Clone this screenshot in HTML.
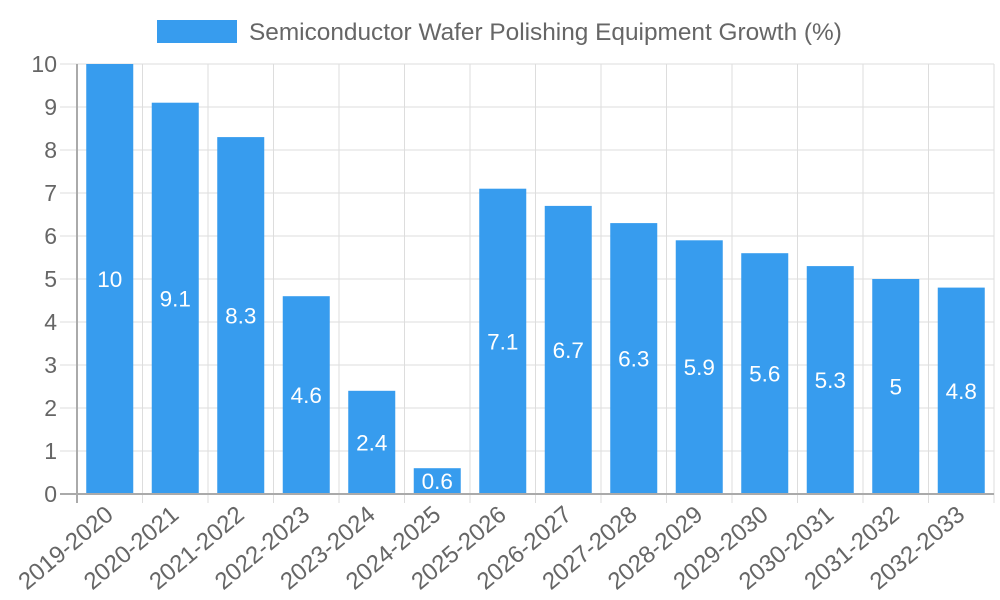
<!DOCTYPE html>
<html><head><meta charset="utf-8"><style>
body{margin:0;background:#fff;}
svg{display:block;font-family:"Liberation Sans",sans-serif;}
</style></head><body>
<svg id="c" width="1000" height="600">
<g id="legend">
<rect x="157" y="20" width="80" height="23" fill="#379cee"/>
<text x="249" y="40" font-size="24.4" fill="#666">Semiconductor Wafer Polishing Equipment Growth (%)</text>
</g>
</svg>
<script>
const categories=["2019-2020","2020-2021","2021-2022","2022-2023","2023-2024","2024-2025","2025-2026","2026-2027","2027-2028","2028-2029","2029-2030","2030-2031","2031-2032","2032-2033"];
const values=[10,9.1,8.3,4.6,2.4,0.6,7.1,6.7,6.3,5.9,5.6,5.3,5,4.8];
const yTicks=[0,1,2,3,4,5,6,7,8,9,10];
const NS="http://www.w3.org/2000/svg";
const svg=document.getElementById('c');
const L=77,R=994,T=64,B=494,yMax=10;
const band=(R-L)/categories.length;
const y=v=>B-(v/yMax)*(B-T);
const xc=i=>L+band*(i+0.5);
function mk(t,a,p){const e=document.createElementNS(NS,t);for(const k in a)e.setAttribute(k,a[k]);(p||svg).appendChild(e);return e;}
const grid=mk('g',{});


yTicks.forEach(t=>{
  const l=mk('line',{x1:60,x2:R,y1:y(t),y2:y(t),stroke:t===0?'#aaa':'#ddd','stroke-width':t===0?2:1},grid);
  
  
  const tx=mk('text',{x:57,y:y(t)+8,'text-anchor':'end','font-size':23,fill:'#666'});
  tx.textContent=t;
  
  
});
for(let i=0;i<=categories.length;i++){
  const x=L+band*i;
  const l=mk('line',{x1:x,x2:x,y1:T,y2:503,stroke:i===0?'#aaa':'#ddd','stroke-width':i===0?2:1},grid);
  
  
}
const bw=47;
values.forEach((v,i)=>{
  const r=mk('rect',{x:xc(i)-bw/2,y:y(v),width:bw,height:B-y(v),fill:'#379cee'});
  
  
  const t=mk('text',{x:xc(i),y:(y(v)+B)/2+8,'text-anchor':'middle','font-size':22.5,fill:'#fff'});
  t.textContent=v;
  
  
  const lx=xc(i)+5,ly=517;
  const c=mk('text',{x:lx,y:ly,'text-anchor':'end','font-size':24,fill:'#666',transform:`rotate(-40 ${lx} ${ly})`});
  c.textContent=categories[i];
  
  
});
mk('line',{x1:L,x2:R,y1:B,y2:B,stroke:'#aaa','stroke-width':2});
</script>
</body></html>
